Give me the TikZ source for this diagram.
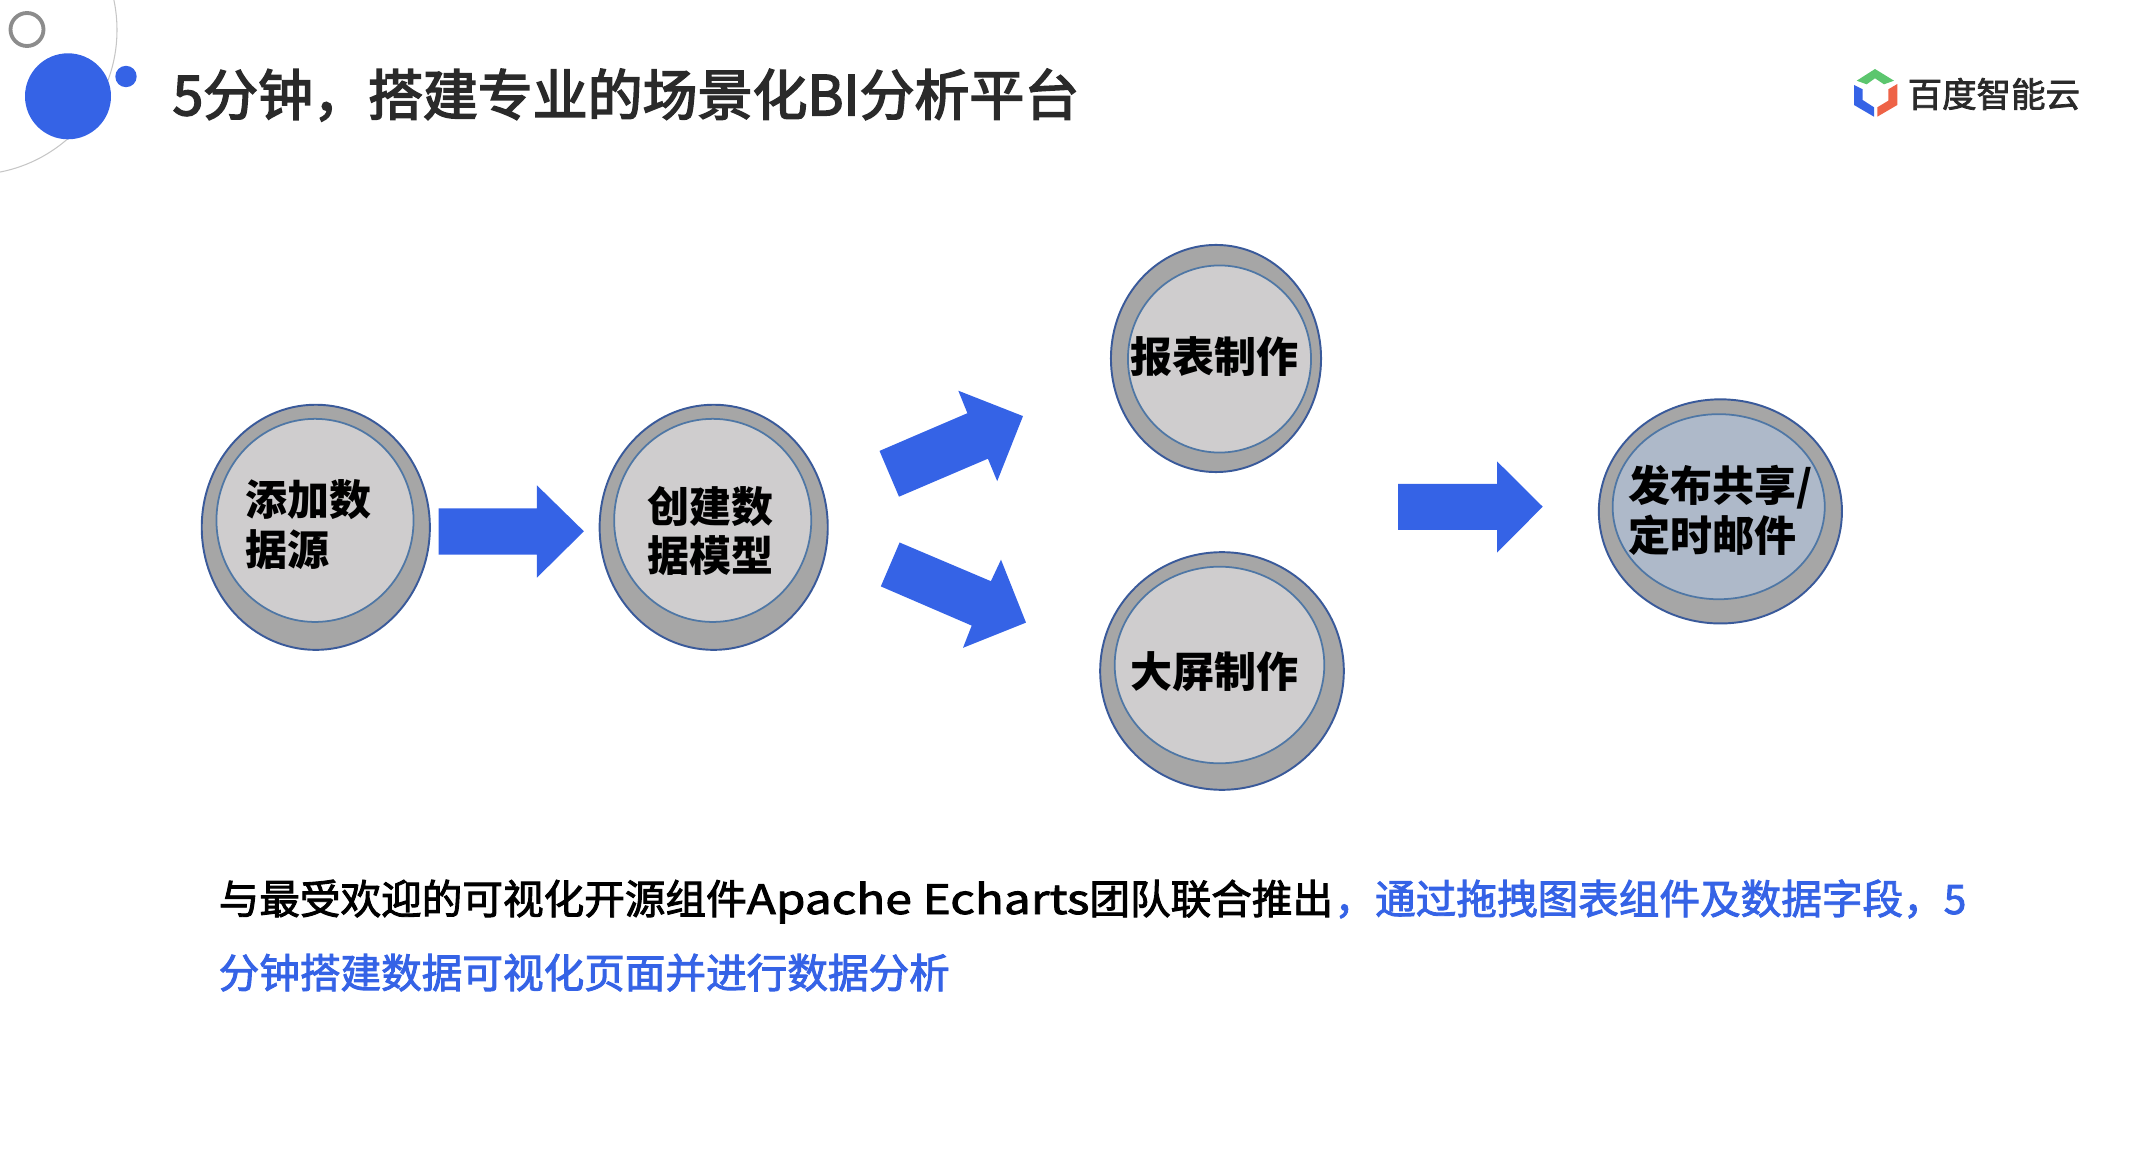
\documentclass[tikz,border=0pt]{standalone}
\usepackage{fontspec}
\setmainfont{Noto Sans CJK SC}
\newfontfamily\heavyfont[FakeBold=3]{Noto Sans CJK SC}
\newfontfamily\mediumfont[FakeBold=2.2]{Noto Sans CJK SC}
\newfontfamily\widelatin[FakeStretch=1.18,FakeBold=2.2]{Noto Sans CJK SC}
\usetikzlibrary{shapes.geometric}
\definecolor{brandblue}{HTML}{3563E6}
\definecolor{ringedge}{HTML}{3A5A9A}
\definecolor{innerline}{HTML}{4F77A5}
\definecolor{rimgray}{HTML}{A6A6A6}
\definecolor{facegray}{HTML}{CFCDCE}
\definecolor{facesteel}{HTML}{AEB9C9}
\definecolor{inkdark}{HTML}{2A2A2A}
\definecolor{logogreen}{HTML}{5CC66E}
\definecolor{logored}{HTML}{EE6347}
\tikzset{
    outerdisc/.style={ellipse,draw=ringedge,fill=rimgray,line width=0.55pt,inner sep=0pt,outer sep=0pt},
    innerdisc/.style={ellipse,draw=innerline,fill=facegray,line width=0.5pt,inner sep=0pt,outer sep=0pt},
    disclabel/.style={anchor=west,align=left,inner sep=0pt,font=\fontsize{11.95}{14.2}\selectfont\bfseries,text=black},
    bodytext/.style={anchor=base west,inner sep=0pt,font=\fontsize{11.55}{14}\selectfont\mediumfont},
    blockarrow/.style={fill=brandblue,draw=none},
}
\begin{document}
\begin{tikzpicture}[x=0.01cm,y=-0.01cm]
    \useasboundingbox (0,0) rectangle (2150,1170);
    \begin{scope}
        \clip (0,0) rectangle (2150,1170);
        \draw[line width=0.3pt,gray!45] (-27.7,30) circle[radius=144.7];
    \end{scope}
    \draw[line width=1.1pt,gray!90] (27,29.5) circle[radius=16.5];
    \fill[brandblue] (68,96.3) circle[radius=43];
    \fill[brandblue] (126,76.5) circle[radius=10.7];
    \node[anchor=west,inner sep=0pt,text=inkdark,font=\fontsize{15.62}{18}\selectfont\heavyfont] (slidetitle) at (172,95)
        {5分钟，搭建专业的场景化BI分析平台};

    \fill[logogreen] (1856.7,80.7) -- (1875,69) -- (1894,80.7) -- (1884,84.3) -- (1875,78.3) -- (1866.7,84.3) -- cycle;
    \fill[brandblue] (1854,85) -- (1862.7,89.3) -- (1862.7,100) -- (1874,107.3) -- (1874,116.7) -- (1854,105) -- cycle;
    \fill[logored] (1897.3,84) -- (1897.3,105) -- (1877.3,116.7) -- (1877.3,107.3) -- (1888.3,100.7) -- (1888.3,89.3) -- cycle;
    \node[anchor=west,inner sep=0pt,text=inkdark,font=\fontsize{9.8}{12}\selectfont\mediumfont] (brandname) at (1907,94) {百度智能云};

    \node[outerdisc,minimum width=2.28cm,minimum height=2.45cm] (addsourceouter) at (315.8,527.3) {};
    \node[innerdisc,minimum width=1.97cm,minimum height=2.03cm] (addsourceinner) at (315,520.4) {};
    \node[disclabel] (addsource) at (245,525) {添加数\\据源};

    \node[outerdisc,minimum width=2.28cm,minimum height=2.45cm] (modelouter) at (713.7,527.3) {};
    \node[innerdisc,minimum width=1.97cm,minimum height=2.03cm] (modelinner) at (712.7,520.4) {};
    \node[disclabel] (model) at (647,531) {创建数\\据模型};

    \node[outerdisc,minimum width=2.10cm,minimum height=2.27cm] (reportouter) at (1216,358.5) {};
    \node[innerdisc,minimum width=1.83cm,minimum height=1.87cm] (reportinner) at (1219.5,359) {};
    \node[disclabel] (report) at (1129.5,356.5) {报表制作};

    \node[outerdisc,minimum width=2.435cm,minimum height=2.375cm] (screenouter) at (1222,671) {};
    \node[innerdisc,minimum width=2.095cm,minimum height=1.965cm] (screeninner) at (1219.5,665) {};
    \node[disclabel] (screen) at (1130,671.5) {大屏制作};

    \node[outerdisc,minimum width=2.43cm,minimum height=2.24cm] (publishouter) at (1720.4,511.4) {};
    \node[innerdisc,fill=facesteel,minimum width=2.12cm,minimum height=1.85cm] (publishinner) at (1718.7,506.7) {};
    \node[disclabel] (publish) at (1628,510) {发布共享/\\定时邮件};

    \fill[blockarrow] (438.7,508.3) -- (536.9,508.3) -- (536.9,485.3) -- (583.9,531.3) -- (536.9,577.7) -- (536.9,554.7) -- (438.7,554.7) -- cycle;
    \fill[blockarrow] (879.5,450.9) -- (967.4,413.2) -- (958.3,390.7) -- (1023,416.1) -- (997.2,481.2) -- (987.9,458.7) -- (899,496.7) -- cycle;
    \fill[blockarrow] (899.6,542.5) -- (990.9,581.2) -- (1001,559.7) -- (1026,622.6) -- (963,647.8) -- (971.7,625.6) -- (880.8,586.4) -- cycle;
    \fill[blockarrow] (1398,484) -- (1497,484) -- (1497,461.3) -- (1542.7,506.7) -- (1497,552.7) -- (1497,530) -- (1398,530) -- cycle;

    \node[bodytext,text=black] (blurbblack) at (218,914) {与最受欢迎的可视化开源组件{\widelatin Apache Echarts}团队联合推出};
    \node[bodytext,text=brandblue] (blurbblue) at (blurbblack.base east) {，通过拖拽图表组件及数据字段，5};
    \node[bodytext,text=brandblue] (blurbnext) at (218,988) {分钟搭建数据可视化页面并进行数据分析};
\end{tikzpicture}
\end{document}
